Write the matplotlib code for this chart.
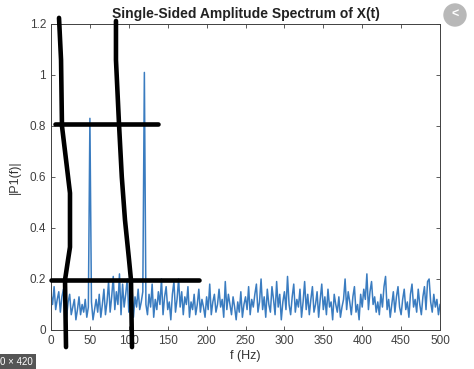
import numpy as np
import matplotlib
matplotlib.use("Agg")
import matplotlib.pyplot as plt

# single-sided spectrum, 0..500 Hz every 2 Hz
f_start, f_stop = 0, 500
P1 = [
    0.14, 0.10, 0.17, 0.08, 0.12, 0.15, 0.07, 0.13, 0.16, 0.09,
    0.05, 0.11, 0.14, 0.06, 0.09, 0.12, 0.04, 0.08, 0.13, 0.06,
    0.10, 0.07, 0.12, 0.05, 0.09, 0.83, 0.11, 0.04, 0.08, 0.12,
    0.07, 0.14, 0.05, 0.10, 0.16, 0.06, 0.11, 0.19, 0.07, 0.13,
    0.21, 0.08, 0.15, 0.10, 0.22, 0.06, 0.18, 0.09, 0.14, 0.20,
    0.07, 0.12, 0.17, 0.05, 0.13, 0.09, 0.16, 0.08, 0.11, 0.15,
    1.01, 0.10, 0.06, 0.14, 0.09, 0.18, 0.05, 0.12, 0.08, 0.15,
    0.10, 0.20, 0.06, 0.13, 0.17, 0.08, 0.11, 0.04, 0.14, 0.19,
    0.07, 0.12, 0.20, 0.09, 0.15, 0.06, 0.13, 0.10, 0.17, 0.05,
    0.11, 0.08, 0.14, 0.06, 0.10, 0.16, 0.07, 0.12, 0.09, 0.05,
    0.13, 0.08, 0.18, 0.06, 0.11, 0.14, 0.07, 0.10, 0.16, 0.09,
    0.12, 0.05, 0.19, 0.08, 0.14, 0.10, 0.06, 0.13, 0.09, 0.04,
    0.11, 0.07, 0.15, 0.05, 0.10, 0.13, 0.08, 0.17, 0.06, 0.12,
    0.09, 0.14, 0.18, 0.07, 0.11, 0.20, 0.08, 0.13, 0.05, 0.16,
    0.10, 0.07, 0.17, 0.12, 0.06, 0.19, 0.09, 0.14, 0.04, 0.11,
    0.15, 0.08, 0.21, 0.10, 0.06, 0.13, 0.18, 0.07, 0.12, 0.09,
    0.16, 0.05, 0.11, 0.19, 0.08, 0.14, 0.06, 0.12, 0.17, 0.07,
    0.10, 0.15, 0.05, 0.12, 0.18, 0.08, 0.13, 0.06, 0.16, 0.09,
    0.11, 0.04, 0.14, 0.10, 0.07, 0.13, 0.05, 0.09, 0.12, 0.20,
    0.08, 0.15, 0.11, 0.06, 0.13, 0.17, 0.07, 0.10, 0.04, 0.14,
    0.09, 0.16, 0.12, 0.22, 0.08, 0.15, 0.19, 0.10, 0.13, 0.07,
    0.11, 0.06, 0.14, 0.09, 0.17, 0.21, 0.08, 0.12, 0.05, 0.10,
    0.15, 0.07, 0.13, 0.17, 0.09, 0.06, 0.12, 0.16, 0.08, 0.11,
    0.05, 0.14, 0.18, 0.09, 0.12, 0.07, 0.16, 0.10, 0.06, 0.13,
    0.17, 0.08, 0.19, 0.20, 0.11, 0.07, 0.14, 0.09, 0.12, 0.06,
    0.10,
]
f = np.linspace(f_start, f_stop, len(P1))

x_ticks = [0, 50, 100, 150, 200, 250, 300, 350, 400, 450, 500]
y_ticks = [0, 0.2, 0.4, 0.6, 0.8, 1, 1.2]
y_tick_labels = ["0", "0.2", "0.4", "0.6", "0.8", "1", "1.2"]

# hand drawn marker strokes over the chart (data coords)
stroke1_x = [10.3, 12.9, 14.1, 20.0, 24.4, 24.4, 21.9, 18.0, 19.3]
stroke1_y = [1.224, 1.059, 0.80, 0.65, 0.537, 0.325, 0.275, 0.196, -0.067]
stroke2_x = [83.5, 83.5, 87.4, 91.0, 95.1, 100.3, 102.8, 104.1]
stroke2_y = [1.212, 1.059, 0.808, 0.60, 0.431, 0.275, 0.196, -0.067]
stroke3_x = [5.1, 137.5]
stroke3_y = [0.808, 0.808]
stroke4_x = [0.0, 190.0]
stroke4_y = [0.196, 0.196]

plt.rcParams['font.family'] = ['Liberation Sans', 'DejaVu Sans']

fig = plt.figure(figsize=(4.74, 3.69), dpi=100)
ax = fig.add_axes([0.1076, 0.1057, 0.8207, 0.8293])

ax.plot(f, P1, color="#3a7cc0", linewidth=1.1)

for sx, sy in [(stroke1_x, stroke1_y), (stroke2_x, stroke2_y),
               (stroke3_x, stroke3_y), (stroke4_x, stroke4_y)]:
    ax.plot(sx, sy, color="black", linewidth=3.3, solid_capstyle="round",
            solid_joinstyle="round", clip_on=False, zorder=5)

ax.set_xlim(0, 500)
ax.set_ylim(0, 1.2)
ax.set_xticks(x_ticks)
ax.set_yticks(y_ticks)
ax.set_yticklabels(y_tick_labels)
ax.tick_params(direction="in", top=True, right=True, length=3,
               labelsize=8.5, colors="#404040", width=0.6)
for s in ax.spines.values():
    s.set_color("#404040")
    s.set_linewidth(0.7)

ax.set_title("Single-Sided Amplitude Spectrum of X(t)", fontsize=10,
             fontweight="bold", color="#222222", pad=4)
ax.set_xlabel("f (Hz)", fontsize=9, color="#333333", labelpad=2)
ax.set_ylabel("|P1(f)|", fontsize=9, color="#333333", labelpad=6)

# screenshot UI bits
fig.patches.append(matplotlib.patches.Ellipse((455 / 474, 1 - 15 / 369),
                   22 / 474, 22 / 369, transform=fig.transFigure,
                   color="#b8b8b8", zorder=10))
fig.text(455 / 474, 1 - 15 / 369, "<", color="white", fontsize=9,
         fontweight="bold", ha="center", va="center", zorder=11)
fig.text(0.0, 0.006, "0 × 420", color="white", fontsize=7, ha="left",
         va="bottom", bbox=dict(boxstyle="square,pad=0.3", fc="#555555",
                                ec="none"))

fig.savefig("out.png", dpi=100)
